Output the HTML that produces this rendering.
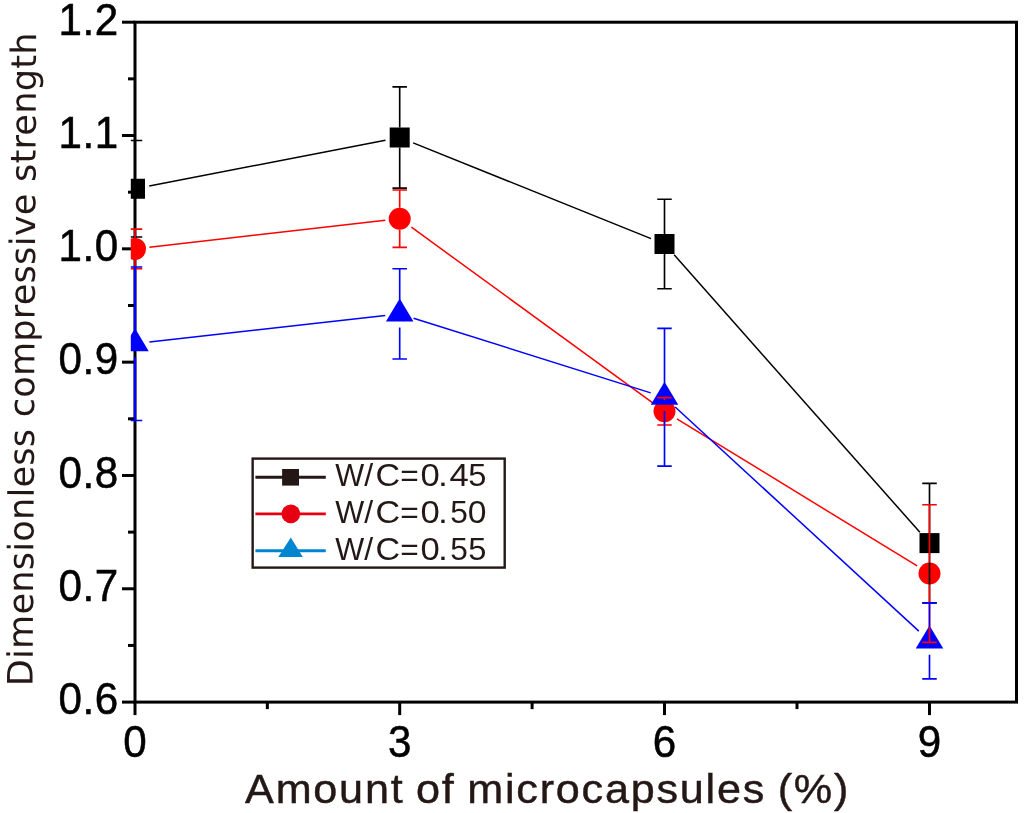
<!DOCTYPE html>
<html lang="en"><head><meta charset="utf-8"><title>Dimensionless compressive strength vs amount of microcapsules</title>
<style>html,body{margin:0;padding:0;background:#fff}body{width:1024px;height:813px;overflow:hidden}svg{display:block}text{font-family:"Liberation Sans",sans-serif}.tk{font-size:44.4px;fill:#000;letter-spacing:0.6px;stroke:#000;stroke-width:0.55px}.xl{font-size:41.5px;fill:#231815;letter-spacing:1.7px;word-spacing:-2px;stroke:#231815;stroke-width:0.45px}.yl{font-family:"DejaVu Sans","Liberation Sans",sans-serif;font-size:35px;fill:#231815;letter-spacing:0.29px}.lg{font-size:31.5px;fill:#231815}</style></head><body>
<svg width="1024" height="813" viewBox="0 0 1024 813">
<rect width="1024" height="813" fill="#fff"/>
<defs><clipPath id="pc"><rect x="130.8" y="10" width="890" height="700"/></clipPath></defs>
<g id="axes" stroke="#000" stroke-width="3.00" fill="none" stroke-linecap="butt">
<rect x="135.00" y="22.20" width="881.50" height="679.90"/>
<line x1="122.00" y1="22.20" x2="135.00" y2="22.20"/>
<line x1="122.00" y1="135.52" x2="135.00" y2="135.52"/>
<line x1="122.00" y1="248.83" x2="135.00" y2="248.83"/>
<line x1="122.00" y1="362.15" x2="135.00" y2="362.15"/>
<line x1="122.00" y1="475.47" x2="135.00" y2="475.47"/>
<line x1="122.00" y1="588.78" x2="135.00" y2="588.78"/>
<line x1="122.00" y1="702.10" x2="135.00" y2="702.10"/>
<line x1="128.00" y1="78.86" x2="135.00" y2="78.86"/>
<line x1="128.00" y1="192.17" x2="135.00" y2="192.17"/>
<line x1="128.00" y1="305.49" x2="135.00" y2="305.49"/>
<line x1="128.00" y1="418.81" x2="135.00" y2="418.81"/>
<line x1="128.00" y1="532.12" x2="135.00" y2="532.12"/>
<line x1="128.00" y1="645.44" x2="135.00" y2="645.44"/>
<line x1="135.00" y1="702.10" x2="135.00" y2="715.10"/>
<line x1="399.70" y1="702.10" x2="399.70" y2="715.10"/>
<line x1="664.50" y1="702.10" x2="664.50" y2="715.10"/>
<line x1="929.50" y1="702.10" x2="929.50" y2="715.10"/>
<line x1="267.35" y1="702.10" x2="267.35" y2="709.10"/>
<line x1="532.10" y1="702.10" x2="532.10" y2="709.10"/>
<line x1="797.00" y1="702.10" x2="797.00" y2="709.10"/>
</g>
<g class="tk" text-anchor="end">
<text transform="translate(118.8,34.50) scale(0.95,1)">1.2</text>
<text transform="translate(118.8,147.82) scale(0.95,1)">1.1</text>
<text transform="translate(118.8,261.13) scale(0.95,1)">1.0</text>
<text transform="translate(118.8,374.45) scale(0.95,1)">0.9</text>
<text transform="translate(118.8,487.77) scale(0.95,1)">0.8</text>
<text transform="translate(118.8,601.08) scale(0.95,1)">0.7</text>
<text transform="translate(118.8,714.40) scale(0.95,1)">0.6</text>
</g>
<g class="tk" text-anchor="middle">
<text transform="translate(135.30,757.2) scale(0.95,1)">0</text>
<text transform="translate(400.00,757.2) scale(0.95,1)">3</text>
<text transform="translate(664.80,757.2) scale(0.95,1)">6</text>
<text transform="translate(929.80,757.2) scale(0.95,1)">9</text>
</g>
<text class="xl" transform="translate(547.6,803.0) scale(1.04,1)" text-anchor="middle">Amount of microcapsules (%)</text>
<text class="yl" transform="translate(34.4,359.3) rotate(-89.68)" text-anchor="middle">Dimensionless compressive strength</text>
<g id="data" clip-path="url(#pc)">
<g stroke="#000" stroke-width="1.50" fill="none">
<line x1="149.24" y1="185.99" x2="385.46" y2="140.26"/>
<line x1="413.15" y1="142.91" x2="651.05" y2="238.59"/>
<line x1="674.12" y1="254.85" x2="919.88" y2="532.25"/>
</g>
<g fill="#000">
<rect x="125.00" y="178.75" width="20" height="20"/>
<rect x="389.70" y="127.50" width="20" height="20"/>
<rect x="654.50" y="234.00" width="20" height="20"/>
<rect x="919.50" y="533.10" width="20" height="20"/>
</g>
<g stroke="#ff0000" stroke-width="1.50" fill="none">
<line x1="149.41" y1="247.26" x2="385.29" y2="220.34"/>
<line x1="411.43" y1="227.23" x2="652.77" y2="402.77"/>
<line x1="676.87" y1="418.87" x2="917.13" y2="565.93"/>
</g>
<g fill="#ff0000">
<circle cx="135.00" cy="248.90" r="11"/>
<circle cx="399.70" cy="218.70" r="11"/>
<circle cx="664.50" cy="411.30" r="11"/>
<circle cx="929.50" cy="573.50" r="11"/>
</g>
<g stroke="#0000ff" stroke-width="1.50" fill="none">
<line x1="149.41" y1="342.08" x2="385.29" y2="315.47"/>
<line x1="413.53" y1="318.20" x2="650.67" y2="392.85"/>
<line x1="675.17" y1="407.02" x2="918.83" y2="631.08"/>
</g>
<g fill="#0000ff">
<polygon points="135.00,328.37 148.75,351.37 121.25,351.37"/>
<polygon points="399.70,298.52 413.45,321.52 385.95,321.52"/>
<polygon points="664.50,381.87 678.25,404.87 650.75,404.87"/>
<polygon points="929.50,625.57 943.25,648.57 915.75,648.57"/>
</g>
<g stroke="#000" stroke-width="1.65" fill="none">
<path d="M135.00 140.50V178.75M135.00 198.75V237.00"/>
<path d="M127.75 140.50H142.25M127.75 237.00H142.25"/>
<path d="M399.70 86.90V127.50M399.70 147.50V188.10"/>
<path d="M392.45 86.90H406.95M392.45 188.10H406.95"/>
<path d="M664.50 199.25V234.00M664.50 254.00V288.75"/>
<path d="M657.25 199.25H671.75M657.25 288.75H671.75"/>
<path d="M929.50 483.30V533.10M929.50 553.10V602.90"/>
<path d="M922.25 483.30H936.75M922.25 602.90H936.75"/>
</g>
<g stroke="#ff0000" stroke-width="1.65" fill="none">
<path d="M135.00 229.10V237.90M135.00 259.90V268.70"/>
<path d="M127.75 229.10H142.25M127.75 268.70H142.25"/>
<path d="M399.70 190.00V207.70M399.70 229.70V247.40"/>
<path d="M392.45 190.00H406.95M392.45 247.40H406.95"/>
<path d="M664.50 397.65V400.30M664.50 422.30V424.95"/>
<path d="M657.25 397.65H671.75M657.25 424.95H671.75"/>
<path d="M929.50 504.70V562.50M929.50 584.50V642.30"/>
<path d="M922.25 504.70H936.75M922.25 642.30H936.75"/>
</g>
<g stroke="#0000ff" stroke-width="1.65" fill="none">
<path d="M135.00 266.95V329.95M135.00 357.45V420.45" stroke-width="2.4"/>
<path d="M127.75 266.95H142.25M127.75 420.45H142.25"/>
<path d="M399.70 268.70V300.10M399.70 327.60V359.00"/>
<path d="M392.45 268.70H406.95M392.45 359.00H406.95"/>
<path d="M664.50 328.35V383.45M664.50 410.95V466.05"/>
<path d="M657.25 328.35H671.75M657.25 466.05H671.75"/>
<path d="M929.50 602.90V627.15M929.50 654.65V678.90"/>
<path d="M922.25 602.90H936.75M922.25 678.90H936.75"/>
</g>
</g>
<g id="legend">
<rect x="252.65" y="458.6" width="252.05" height="109.0" fill="#fff" stroke="#231815" stroke-width="2.4"/>
<line x1="255.4" y1="477.30" x2="325.8" y2="477.30" stroke="#231815" stroke-width="2.9"/>
<rect x="282.1" y="469.00" width="16.9" height="16.6" fill="#231815"/>
<text class="lg" y="486.20"><tspan x="335.17" textLength="28.94" lengthAdjust="spacingAndGlyphs">W</tspan><tspan x="364.20" textLength="8.90" lengthAdjust="spacingAndGlyphs">/</tspan><tspan x="375.57" textLength="24.63" lengthAdjust="spacingAndGlyphs">C</tspan><tspan x="400.15" textLength="18.51" lengthAdjust="spacingAndGlyphs">=</tspan><tspan x="420.64" textLength="19.31" lengthAdjust="spacingAndGlyphs">0</tspan><tspan x="437.94" textLength="9.92" lengthAdjust="spacingAndGlyphs">.</tspan><tspan x="449.50" textLength="19.31" lengthAdjust="spacingAndGlyphs">4</tspan><tspan x="468.19" textLength="18.18" lengthAdjust="spacingAndGlyphs">5</tspan></text>
<line x1="255.4" y1="513.90" x2="325.8" y2="513.90" stroke="#e60012" stroke-width="2.9"/>
<circle cx="290.85" cy="513.90" r="9.3" fill="#e60012"/>
<text class="lg" y="522.80"><tspan x="335.17" textLength="28.94" lengthAdjust="spacingAndGlyphs">W</tspan><tspan x="364.20" textLength="8.90" lengthAdjust="spacingAndGlyphs">/</tspan><tspan x="375.57" textLength="24.63" lengthAdjust="spacingAndGlyphs">C</tspan><tspan x="400.15" textLength="18.51" lengthAdjust="spacingAndGlyphs">=</tspan><tspan x="420.64" textLength="19.31" lengthAdjust="spacingAndGlyphs">0</tspan><tspan x="437.94" textLength="9.92" lengthAdjust="spacingAndGlyphs">.</tspan><tspan x="450.13" textLength="17.60" lengthAdjust="spacingAndGlyphs">5</tspan><tspan x="467.68" textLength="18.73" lengthAdjust="spacingAndGlyphs">0</tspan></text>
<line x1="255.4" y1="550.80" x2="325.8" y2="550.80" stroke="#0086d1" stroke-width="2.9"/>
<polygon points="290.8,537.4 302.8,557.1 278.3,557.1" fill="#0086d1"/>
<text class="lg" y="559.70"><tspan x="335.17" textLength="28.94" lengthAdjust="spacingAndGlyphs">W</tspan><tspan x="364.20" textLength="8.90" lengthAdjust="spacingAndGlyphs">/</tspan><tspan x="375.57" textLength="24.63" lengthAdjust="spacingAndGlyphs">C</tspan><tspan x="400.15" textLength="18.51" lengthAdjust="spacingAndGlyphs">=</tspan><tspan x="420.64" textLength="19.31" lengthAdjust="spacingAndGlyphs">0</tspan><tspan x="437.94" textLength="9.92" lengthAdjust="spacingAndGlyphs">.</tspan><tspan x="450.13" textLength="17.60" lengthAdjust="spacingAndGlyphs">5</tspan><tspan x="468.19" textLength="18.18" lengthAdjust="spacingAndGlyphs">5</tspan></text>
</g>
</svg></body></html>
